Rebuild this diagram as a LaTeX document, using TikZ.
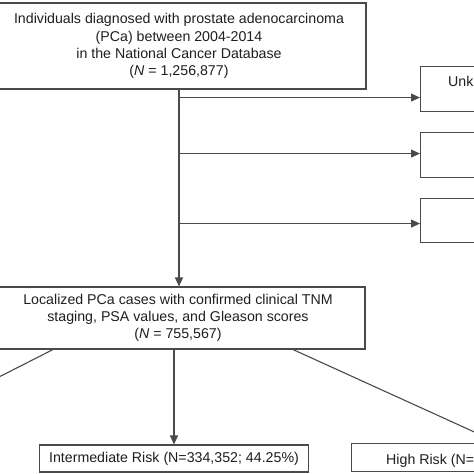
\documentclass[tikz,border=0pt]{standalone}
\usepackage{fontspec}
\setmainfont{Liberation Sans}
\usetikzlibrary{arrows.meta,calc}
\definecolor{linec}{HTML}{4A4A4A}
\definecolor{textc}{HTML}{1E1E1E}
\tikzset{
  boxnode/.style={draw=linec, line width=1.1pt, rectangle, inner sep=0pt, align=center,
    text=textc, font=\fontsize{14.2pt}{17.3pt}\selectfont},
  labeltext/.style={inner sep=0pt, text=textc, font=\fontsize{14.2pt}{17.3pt}\selectfont},
  conn/.style={draw=linec, line width=1.1pt},
  arrowconn/.style={conn, -{Triangle[length=9pt,width=8pt]}}
}
\begin{document}
\begin{tikzpicture}[x=1pt,y=-1pt]
\useasboundingbox (0,0) rectangle (474,474);
\clip (0,0) rectangle (474,474);
% top box
\node[boxnode, minimum width=374pt, minimum height=86pt] (top) at (179,46)
  {Individuals diagnosed with prostate adenocarcinoma\\(PCa) between 2004-2014\\in the National Cancer Database\\(\textit{N} = 1,256,877)};
% exclusion boxes (right, cut off)
\node[boxnode, anchor=north west, minimum width=200pt, minimum height=45pt] (ex1) at (420,66) {};
\node[boxnode, anchor=north west, minimum width=200pt, minimum height=45pt] (ex2) at (420,132) {};
\node[boxnode, anchor=north west, minimum width=200pt, minimum height=44pt] (ex3) at (420,198) {};
\node[labeltext, anchor=base west] (ex1text) at (448,86) {Unk};
% localized box
\node[boxnode, minimum width=374pt, minimum height=62pt] (loc) at (178,318)
  {Localized PCa cases with confirmed clinical TNM\\staging, PSA values, and Gleason scores\\(\textit{N} = 755,567)};
% risk boxes
\node[boxnode, minimum width=269pt, minimum height=27pt] (inter) at (174,458.5)
  {Intermediate Risk (N=334,352; 44.25\%)};
\node[boxnode, anchor=north west, minimum width=294pt, minimum height=28pt] (high) at (351,443) {};
\node[labeltext, anchor=base west] (hightext) at (386,464) {High Risk (N=};
\coordinate (lowtop) at (-131,443);
% trunk
\draw[arrowconn] (top.south) -- (top.south |- loc.north);
\coordinate (b1) at ($(top.south)+(0,8)$);
\coordinate (b2) at ($(top.south)+(0,64)$);
\coordinate (b3) at ($(top.south)+(0,134)$);
\draw[arrowconn] (b1) -- (b1 -| ex1.west);
\draw[arrowconn] (b2) -- (b2 -| ex2.west);
\draw[arrowconn] (b3) -- (b3 -| ex3.west);
% branches
\draw[arrowconn] (loc.south -| inter.north) -- (inter.north);
\draw[arrowconn] (loc.south -| 293,0) -- (high.north);
\draw[arrowconn] (loc.south -| 53,0) -- (lowtop);
\end{tikzpicture}
\end{document}
